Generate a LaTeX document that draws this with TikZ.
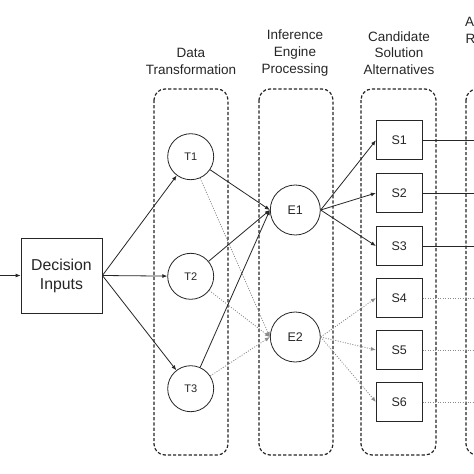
\documentclass[tikz,border=0pt]{standalone}
\usepackage{fontspec}
\setmainfont{Liberation Sans}
\usetikzlibrary{arrows.meta}
\definecolor{ink}{HTML}{262626}
\definecolor{dotc}{HTML}{8A8A8A}
\begin{document}
\begin{tikzpicture}[x=1pt,y=-1pt,
  every node/.style={text=ink},
  grp/.style={draw=ink,line width=1.2pt,dash pattern=on 3.2pt off 2pt,rounded corners=11pt},
  tnode/.style={circle,draw=ink,line width=0.8pt,minimum size=46pt,inner sep=0pt,font=\fontsize{11}{12}\selectfont},
  enode/.style={circle,draw=ink,line width=0.8pt,minimum size=50pt,inner sep=0pt,font=\fontsize{12.5}{14}\selectfont},
  snode/.style={rectangle,draw=ink,line width=0.8pt,minimum width=46pt,minimum height=39pt,inner sep=0pt,font=\fontsize{12.5}{14}\selectfont},
  inbox/.style={rectangle,draw=ink,line width=0.8pt,minimum width=81pt,minimum height=75pt,inner sep=0pt,align=center,font=\fontsize{15.8}{19}\selectfont},
  head/.style={align=center,font=\fontsize{13.5}{16.7}\selectfont,inner sep=0pt},
  solidarr/.style={draw=ink,line width=0.8pt,-{Latex[length=5pt,width=4pt]}},
  dotarr/.style={draw=dotc,line width=0.8pt,dash pattern=on 1pt off 1.5pt,-{Latex[length=5pt,width=4pt]}},
  solidln/.style={draw=ink,line width=0.8pt},
  dotln/.style={draw=dotc,line width=0.8pt,dash pattern=on 1pt off 1.5pt}
]
\useasboundingbox (0,0) rectangle (474,474);
\clip (0,0) rectangle (474,474);
\fill[white] (0,0) rectangle (474,474);

% group boxes
\draw[grp] (154,89) rectangle (228,455);
\draw[grp] (259,89) rectangle (333,455);
\draw[grp] (361,89) rectangle (436,455);
\draw[grp] (466,89) rectangle (545,455);

% headings
\node[head] (hT) at (191,61.5) {Data\\Transformation};
\node[head] (hE) at (295,53) {Inference\\Engine\\Processing};
\node[head] (hS) at (399,53) {Candidate\\Solution\\Alternatives};
\node[head,anchor=west] (hA) at (465,22) {A};
\node[head,anchor=west] (hR) at (465.5,39) {R};

% nodes
\node[inbox] (di) at (61.5,275.5) {Decision\\Inputs};
\node[tnode] (t1) at (190.7,156.7) {T1};
\node[tnode] (t2) at (190.7,276.3) {T2};
\node[tnode] (t3) at (190.7,388.7) {T3};
\node[enode] (e1) at (295.3,210) {E1};
\node[enode] (e2) at (295.3,337) {E2};
\node[snode] (s1) at (399.3,140.3) {S1};
\node[snode] (s2) at (399.3,193) {S2};
\node[snode] (s3) at (399.3,246) {S3};
\node[snode] (s4) at (399.3,298) {S4};
\node[snode] (s5) at (399.3,350) {S5};
\node[snode] (s6) at (399.3,402) {S6};

\coordinate (in) at (-2,275.5);
\coordinate (o1) at (476,140.3);
\coordinate (o2) at (476,193);
\coordinate (o3) at (476,246);
\coordinate (o4) at (476,298);
\coordinate (o5) at (476,350);
\coordinate (o6) at (476,402);

% connectors
\draw[solidarr] (in) -- (di.west);
\draw[solidarr] (di.east) -- (t1);
\draw[solidarr] (di.east) -- (t2);
\draw[solidarr] (di.east) -- (t3);

\draw[dotarr] (t1) -- (e2.west);
\draw[dotarr] (t2) -- (e2.west);
\draw[dotarr] (t3) -- (e2.west);
\draw[solidarr] (t1) -- (e1.west);
\draw[solidarr] (t2) -- (e1.west);
\draw[solidarr] (t3) -- (e1.west);

\draw[solidarr] (e1.east) -- (s1.west);
\draw[solidarr] (e1.east) -- (s2.west);
\draw[solidarr] (e1.east) -- (s3.west);
\draw[dotarr] (e2.east) -- (s4.west);
\draw[dotarr] (e2.east) -- (s5.west);
\draw[dotarr] (e2.east) -- (s6.west);

\draw[solidln] (s1.east) -- (o1);
\draw[solidln] (s2.east) -- (o2);
\draw[solidln] (s3.east) -- (o3);
\draw[dotln] (s4.east) -- (o4);
\draw[dotln] (s5.east) -- (o5);
\draw[dotln] (s6.east) -- (o6);
\end{tikzpicture}
\end{document}
